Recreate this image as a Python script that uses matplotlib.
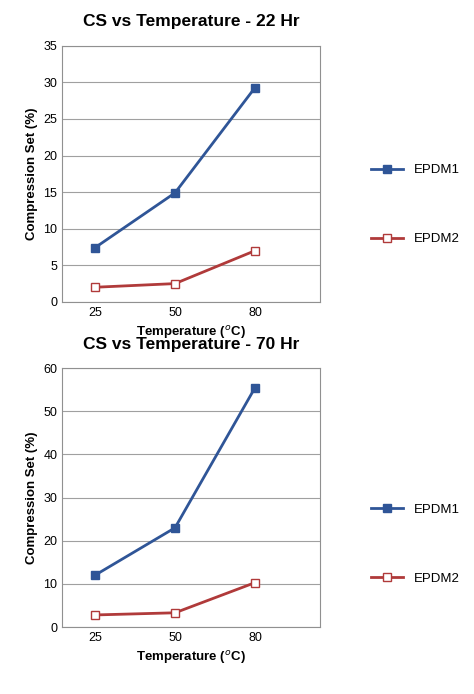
import matplotlib.pyplot as plt

temps = ["25", "50", "80"]
epdm1_22 = [7.4, 14.9, 29.3]
epdm2_22 = [2.0, 2.5, 7.0]
epdm1_70 = [12.0, 23.0, 55.5]
epdm2_70 = [2.8, 3.3, 10.3]

plt.rcParams["font.family"] = ["Liberation Sans", "DejaVu Sans"]
fig = plt.figure(figsize=(4.74, 6.94), dpi=100)

blue = "#2f5597"
red = "#b03a3a"


def panel(rect, y1, y2, ymax, step, title, legy):
    ax = fig.add_axes(rect)
    x = range(len(temps))
    ax.plot(x, y1, color=blue, lw=2, marker="s", ms=6, label="EPDM1")
    ax.plot(x, y2, color=red, lw=2, marker="s", ms=6, mfc="white",
            mec=red, label="EPDM2")
    ax.set_xlim(-0.41, 2.81)
    ax.set_ylim(0, ymax)
    ax.set_yticks(range(0, ymax + 1, step))
    ax.set_xticks(list(x))
    ax.set_xticklabels(temps)
    ax.tick_params(labelsize=9, length=0)
    ax.yaxis.grid(True, color="#a0a0a0", lw=0.8)
    ax.set_axisbelow(True)
    for s in ax.spines.values():
        s.set_color("#909090")
    ax.set_title(title, fontsize=12.5, fontweight="bold", pad=14)
    ax.set_xlabel("Temperature ($^o$C)", fontsize=9.5, fontweight="bold")
    ax.set_ylabel("Compression Set (%)", fontsize=9.5, fontweight="bold")
    ax.legend(loc="center left", bbox_to_anchor=(1.15, legy), frameon=False,
              fontsize=9.5, handlelength=2.5, labelspacing=4.3)
    return ax


panel([0.131, 0.565, 0.544, 0.369], epdm1_22, epdm2_22, 35, 5,
      "CS vs Temperature - 22 Hr", 0.38)
panel([0.131, 0.0965, 0.544, 0.373], epdm1_70, epdm2_70, 60, 10,
      "CS vs Temperature - 70 Hr", 0.32)

fig.savefig("out.png", dpi=100)
